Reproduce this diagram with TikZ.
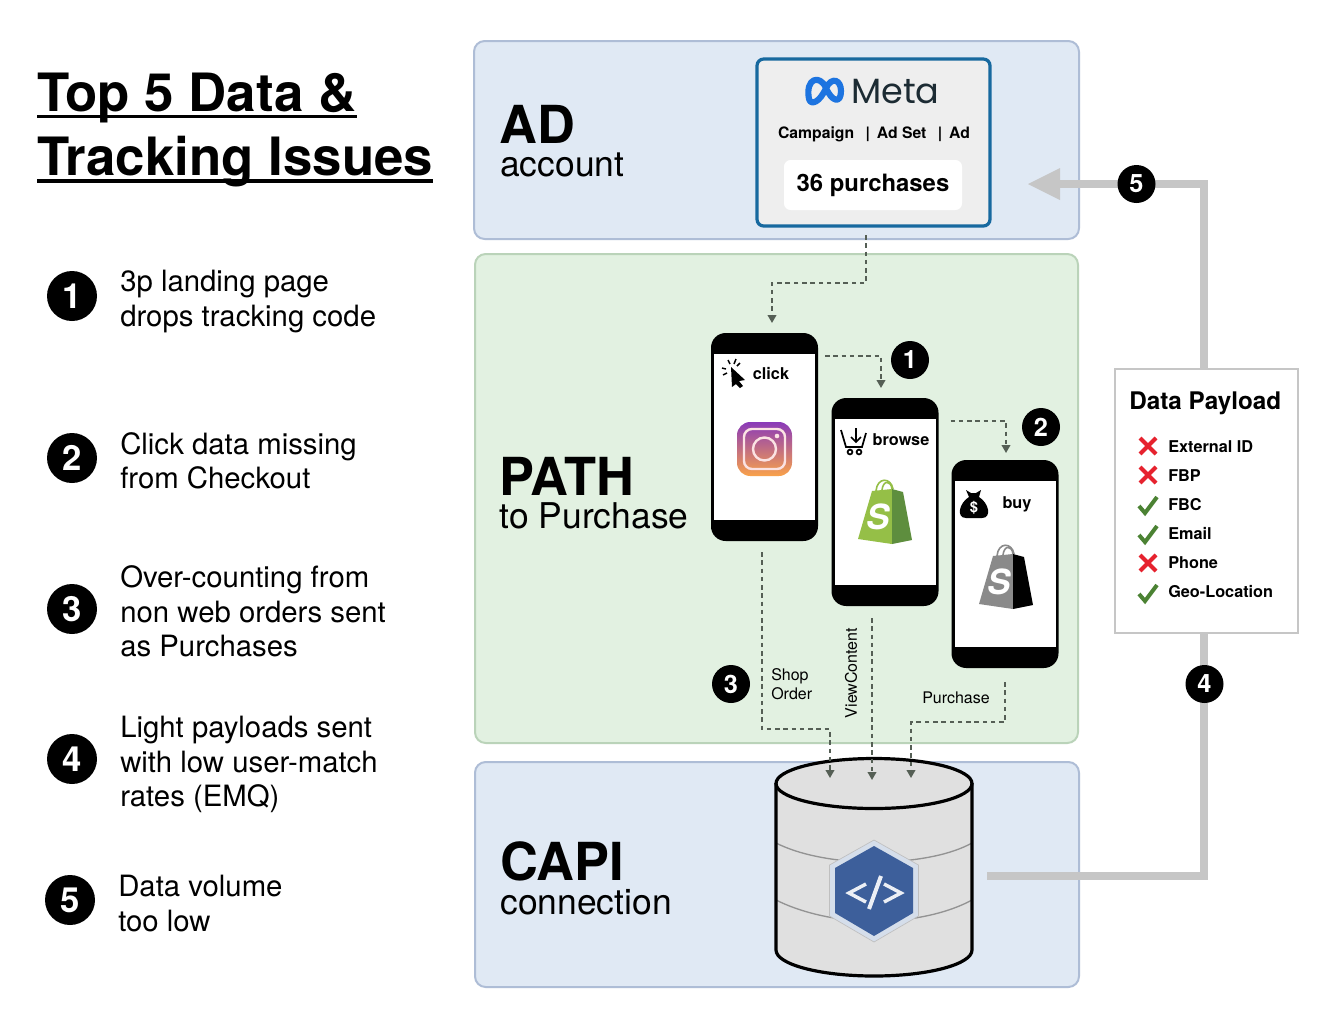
\documentclass[tikz,border=0pt]{standalone}
\usepackage{fontspec}
\setmainfont{TeX Gyre Heros}
\newfontfamily\metafont{Poppins}
\usetikzlibrary{arrows.meta,calc,shapes.geometric}
\definecolor{adFill}{HTML}{E0E9F4}
\definecolor{adLine}{HTML}{AEBDD6}
\definecolor{pathFill}{HTML}{E2F1E1}
\definecolor{pathLine}{HTML}{BAD3B9}
\definecolor{metaLine}{HTML}{17699F}
\definecolor{metaFill}{HTML}{EEEEEE}
\definecolor{metaInk}{HTML}{1C2B33}
\definecolor{metaBlue}{HTML}{1D74E0}
\definecolor{flowInk}{HTML}{555F55}
\definecolor{payLine}{HTML}{C6C6C6}
\definecolor{dbFill}{HTML}{E0E0E0}
\definecolor{hexBlue}{HTML}{3D5F9B}
\definecolor{hexRim}{HTML}{D5DEEB}
\definecolor{noRed}{HTML}{E6222E}
\definecolor{okGreen}{HTML}{4B8233}
\definecolor{shopA}{HTML}{95BF47}
\definecolor{shopB}{HTML}{5E8E3E}
\definecolor{shopC}{HTML}{8A8A8A}
\definecolor{instaA}{HTML}{8A3AB9}
\definecolor{instaB}{HTML}{D6296B}
\definecolor{instaC}{HTML}{F9A24A}
\definecolor{instaRing}{HTML}{FBE3E3}
\newcommand{\fsz}[1]{\fontsize{#1}{#1}\selectfont}
\newcommand{\nocross}[1]{\draw[noRed,line width=3pt] ($(#1)+(-8,-8)$) -- ($(#1)+(8,8)$) ($(#1)+(-8,8)$) -- ($(#1)+(8,-8)$);}
\newcommand{\yescheck}[1]{\draw[okGreen,line width=3pt] ($(#1)+(-9,1)$) -- ($(#1)+(-3,8)$) -- ($(#1)+(9,-8)$);}
\tikzset{
	sect/.style={draw=#1,line width=1.5pt,rounded corners=8pt,outer sep=0,inner sep=0},
	phone/.style={fill=black,rounded corners=11pt,minimum width=80.25pt,minimum height=156pt,outer sep=0,inner sep=0},
	screen/.style={fill=white,minimum width=75.75pt,minimum height=124.5pt,outer sep=0,inner sep=0},
	bigdot/.style={circle,fill=black,text=white,minimum size=37.5pt,inner sep=0,font=\fsz{26}\bfseries},
	smalldot/.style={circle,fill=black,text=white,minimum size=28.5pt,inner sep=0,font=\fsz{19}\bfseries},
	item/.style={anchor=west,align=left,inner sep=0,font=\fontsize{22}{25.9}\selectfont},
	titletext/.style={anchor=base west,inner sep=0,font=\fsz{39.6}\bfseries},
	titlerule/.style={line width=2.3pt},
	headbig/.style={anchor=west,inner sep=0,font=\fsz{39.3}\bfseries},
	headsub/.style={anchor=west,inner sep=0,font=\fsz{26.6}},
	applabel/.style={inner sep=0,font=\fsz{12.2}\bfseries},
	flowlabel/.style={inner sep=0,font=\fsz{12}},
	paylabel/.style={anchor=west,inner sep=0,font=\fsz{12.2}\bfseries},
	flow/.style={flowInk,line width=1.3pt,dash pattern=on 3.4pt off 2.8pt,-{Triangle[width=6.5pt,length=6pt]}},
	feed/.style={payLine,line width=6pt},
	shopbag/.pic={
		\fill[#1] (-27,26) -- (7,31) -- (7,-24) -- (-13,-22) -- cycle;
		\draw[#1,line width=1.2pt] (-9,-22) .. controls (-8,-36) and (6,-36) .. (8,-24);
		\draw[#1,line width=1.2pt] (-3,-23) .. controls (-2,-33) and (6,-33) .. (7,-24);
	},
	shopside/.pic={
		\fill[#1] (7,-24) -- (18,-21) -- (27,27) -- (7,31) -- cycle;
	}
}
\begin{document}
\begin{tikzpicture}[x=0.75pt,y=-0.75pt]
	\path[use as bounding box,fill=white] (0,0) rectangle (1336,1022);

	% left column
	\node[titletext] (title1) at (37,111) {Top 5 Data \&};
	\node[titletext] (title2) at (37,175) {Tracking Issues};
	\draw[titlerule] ($(title1.base west)+(0,5.5)$) -- ($(title1.base east)+(0,5.5)$);
	\draw[titlerule] ($(title2.base west)+(0,6)$) -- ($(title2.base east)+(0,6)$);

	\node[bigdot] (num1) at (72,296) {1};
	\node[bigdot] (num2) at (72,458) {2};
	\node[bigdot] (num3) at (72,609) {3};
	\node[bigdot] (num4) at (72,759) {4};
	\node[bigdot] (num5) at (70,900) {5};
	\node[item] (txt1) at (120,301.5) {3p landing page\\drops tracking code};
	\node[item] (txt2) at (120,461) {Click data missing\\from Checkout};
	\node[item] (txt3) at (120,611.5) {Over-counting from\\non web orders sent\\as Purchases};
	\node[item] (txt4) at (120,764.5) {Light payloads sent\\with low user-match\\rates (EMQ)};
	\node[item] (txt5) at (118,903.5) {Data volume\\too low};

	% sections
	\node[sect=adLine,fill=adFill,minimum width=453.75pt,minimum height=148.5pt] (adsect) at (776.5,140) {};
	\node[sect=pathLine,fill=pathFill,minimum width=452.25pt,minimum height=366.75pt] (pathsect) at (776.5,498.5) {};
	\node[sect=adLine,fill=adFill,minimum width=453pt,minimum height=168.75pt] (capisect) at (777,874.5) {};

	\node[headbig] (adhead) at (499,124) {AD};
	\node[headsub] (adsub) at (500,165) {account};
	\node[headbig] (pathhead) at (499,476) {PATH};
	\node[headsub] (pathsub) at (499.5,516) {to Purchase};
	\node[headbig] (capihead) at (500,861) {CAPI};
	\node[headsub] (capisub) at (500,902) {connection};

	% meta box
	\node[draw=metaLine,fill=metaFill,line width=2.4pt,rounded corners=5pt,minimum width=174.75pt,minimum height=125.25pt,outer sep=0,inner sep=0] (metabox) at (873.5,142.5) {};
	\draw[metaBlue,line width=4.6pt,line cap=round,line join=round] (809,99) .. controls (805,78) and (820,74) .. (826,88) .. controls (832,102) and (841,104) .. (841,91) .. controls (841,80) and (832,76) .. (826,88) .. controls (820,102) and (811,106) .. (809,99);
	\node[anchor=west,inner sep=0,text=metaInk,font=\metafont\fsz{26.3}] (metaword) at (851,92) {Meta};
	\node[inner sep=0,font=\fsz{11.8}\bfseries] (metalevels) at (874,134.5) {Campaign\, ~|\, Ad Set\, ~|\, Ad};
	\node[fill=white,rounded corners=5pt,minimum width=133.5pt,minimum height=37.5pt,inner sep=0,font=\fsz{17.9}\bfseries] (metacount) at (873,185) {\raisebox{-3pt}{36 purchases}\hspace{4pt}};

	% phones
	\node[phone] (phone1) at (764.5,437) {};
	\node[screen] (screen1) at (764.5,437) {};
	\node[phone] (phone2) at (885,502) {};
	\node[screen] (screen2) at (885,501.5) {};
	\node[phone] (phone3) at (1005,564) {};
	\node[screen] (screen3) at (1005,564) {};
	\node[applabel] (clicklab) at (771,374) {click};
	\node[applabel] (browselab) at (901,440) {browse};
	\node[applabel] (buylab) at (1017,504) {buy};

	% cursor
	\fill[black] (731,367) -- (745,380) -- (739,381) -- (743,386) -- (740,388) -- (736,384) -- (732,387) -- cycle;
	\draw[black,line width=1.1pt] (728,360) -- (730,364) (736,359) -- (734,364) (722,368) -- (726,369) (740,363) -- (737,366) (723,375) -- (727,373);
	% cart
	\draw[black,line width=1.3pt] (841,430) -- (846,447) -- (862,447) -- (866,433) (856,428) -- (856,442);
	\draw[black,line width=1.3pt] (851,437) -- (856,442) -- (861,437);
	\draw[black,line width=1.3pt] (850,452) circle (2.4) (859,452) circle (2.4);
	% money bag
	\fill[black] (966,490) -- (971,493) -- (976,493) -- (981,490) -- (979,497) .. controls (989,503) and (992,518) .. (982,518) -- (966,518) .. controls (956,518) and (959,503) .. (969,497) -- cycle;
	\node[inner sep=0,text=white,font=\fsz{11}\bfseries] (dollar) at (974,507.5) {\$};

	% instagram
	\shade[rounded corners=10pt,top color=instaA,middle color=instaB,bottom color=instaC] (737,422) rectangle (792,476);
	\draw[instaRing,line width=1.8pt,rounded corners=6pt] (744,429) rectangle (785,469);
	\draw[instaRing,line width=1.8pt] (764.5,449) circle (11.5);
	\fill[instaRing] (777,436) circle (2.3);

	% bags
	\pic at (885,513) {shopbag=shopA};
	\pic at (885,513) {shopside=shopB};
	\node[inner sep=0,text=white,font=\fsz{26}\bfseries\itshape] (bags1) at (878,517) {S};
	\pic at (1006,578) {shopbag=shopC};
	\pic at (1006,578) {shopside=black};
	\node[inner sep=0,text=white,font=\fsz{26}\bfseries\itshape] (bags2) at (999,582) {S};

	% database
	\coordinate (dbtop) at (874,778);
	\coordinate (dbout) at (987,876);
	\path[fill=dbFill] (776,783) -- (776,950) arc[start angle=180,end angle=0,x radius=98,y radius=26] -- (972,783) arc[start angle=0,end angle=-180,x radius=98,y radius=25] -- cycle;
	\draw[gray!85,line width=1pt] (776,843) .. controls (800,855) and (830,860) .. (860,862) (888,862) .. controls (920,860) and (950,855) .. (972,843);
	\draw[gray!85,line width=1pt] (776,900) .. controls (800,912) and (830,919) .. (860,921) (888,921) .. controls (920,919) and (950,912) .. (972,900);
	\draw[black,line width=2.4pt] (776,783) -- (776,950) arc[start angle=180,end angle=0,x radius=98,y radius=26] -- (972,783);
	\draw[black,line width=2.4pt] (874,783.5) ellipse[x radius=98,y radius=25];
	\fill[hexRim,draw=gray!50,line width=0.5pt] (874,840) -- (918.5,865) -- (918.5,916) -- (874,942) -- (829.5,916) -- (829.5,865) -- cycle;
	\fill[hexBlue] (874,846) -- (913,868) -- (913,913) -- (874,936) -- (835,913) -- (835,868) -- cycle;
	\draw[white!90!hexBlue,line width=2.6pt] (866,884) -- (849,893) -- (866,902) (884,884) -- (901,893) -- (884,902);
	\draw[white!90!hexBlue,line width=3pt] (881,876) -- (869,909);

	% flows
	\draw[flow] ($(metabox.south)+(-7.5,9)$) -- ++(0,48) -| ($(phone1.north)+(7.5,-10)$);
	\draw[flow] ($(phone1.north east)+(7,23)$) -| ($(phone2.north)+(-4,-10)$);
	\draw[flow] ($(phone2.north east)+(12,23)$) -| ($(phone3.north)+(1,-7)$);
	\draw[flow] ($(phone1.south)+(-2.5,11)$) -- ++(0,177) -| ($(dbtop)+(-44,0)$);
	\draw[flow] ($(phone2.south)+(-13,12)$) -- ($(dbtop)+(-2,2)$);
	\draw[flow] ($(phone3.south)+(0,14)$) -- ++(0,40) -| ($(dbtop)+(37,0)$);
	\node[flowlabel,anchor=west,align=left,font=\fontsize{12}{14}\selectfont] (shoplab) at (771,684) {Shop\\Order};
	\node[flowlabel,rotate=90] (viewlab) at (851,673) {ViewContent};
	\node[flowlabel] (purchlab) at (956,698) {Purchase};

	% payload
	\node[draw=payLine,fill=white,line width=2pt,minimum width=137.25pt,minimum height=198pt,outer sep=0,inner sep=0] (payload) at (1206.5,501) {};
	\node[anchor=west,inner sep=0,font=\fsz{18.2}\bfseries] (paytitle) at (1129,403.5) {Data Payload};
	\node[paylabel] (pay1) at (1168,446.5) {External ID};
	\node[paylabel] (pay2) at (1168,475.5) {FBP};
	\node[paylabel] (pay3) at (1168,504.5) {FBC};
	\node[paylabel] (pay4) at (1168,533.5) {Email};
	\node[paylabel] (pay5) at (1168,562.5) {Phone};
	\node[paylabel] (pay6) at (1168,591.5) {Geo-Location};
	\nocross{1148,446}
	\nocross{1148,475}
	\yescheck{1148,505}
	\yescheck{1148,534}
	\nocross{1148,563}
	\yescheck{1148,593}

	% feedback lines
	\draw[feed] (dbout) -| ($(payload.south)+(-2.5,0)$);
	\draw[feed] ($(payload.north)+(-2.5,0)$) |- (1060,184);
	\fill[payLine] (1028,184) -- (1060,168) -- (1060,200) -- cycle;

	\node[smalldot] (mark1) at (910,360) {1};
	\node[smalldot] (mark2) at (1041,427) {2};
	\node[smalldot] (mark3) at (731,684) {3};
	\node[smalldot] (mark4) at (1204.5,684) {4};
	\node[smalldot] (mark5) at (1136.5,184) {5};
\end{tikzpicture}
\end{document}
